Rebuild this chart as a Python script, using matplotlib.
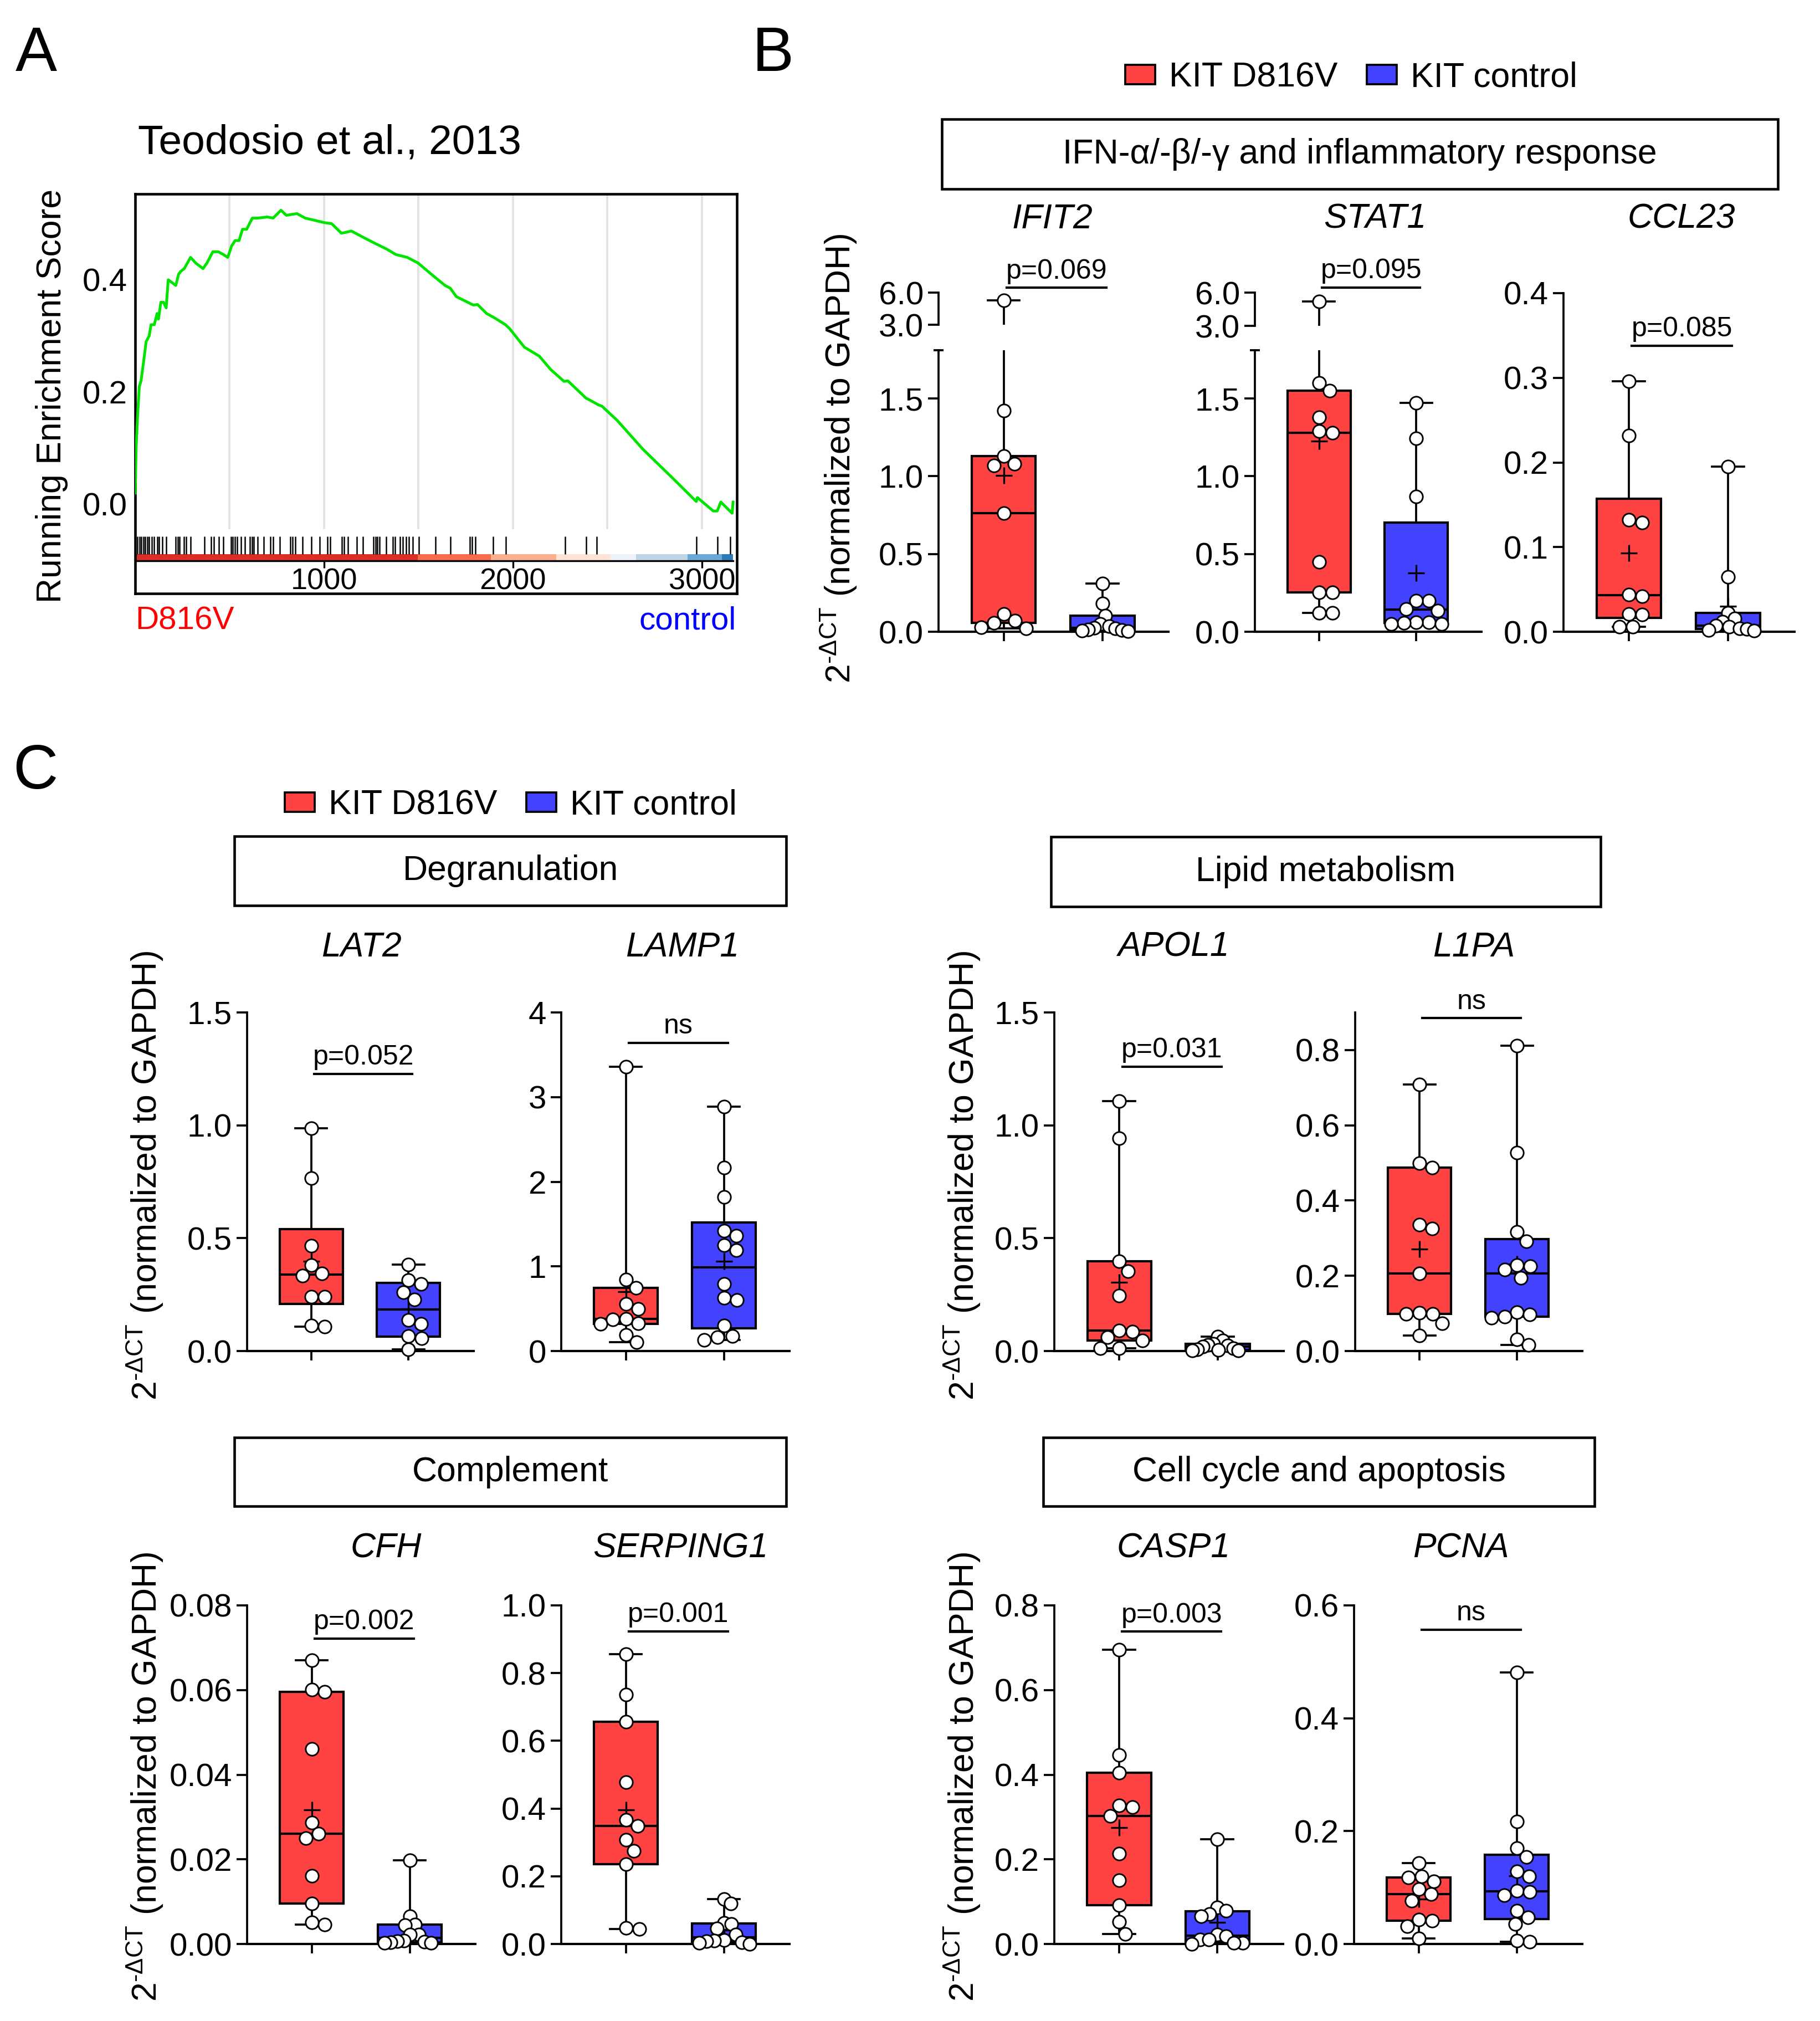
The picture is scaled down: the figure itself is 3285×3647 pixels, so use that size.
import numpy as np
import matplotlib
matplotlib.use('Agg')
import matplotlib.pyplot as plt
from matplotlib.patches import Patch, Rectangle

plt.rcParams['font.family'] = ['Liberation Sans', 'DejaVu Sans']
plt.rcParams['mathtext.fontset'] = 'custom'
plt.rcParams['mathtext.rm'] = 'Liberation Sans'
plt.rcParams['mathtext.it'] = 'Liberation Sans:italic'

W, H, DPI = 3285, 3647, 300
RED = '#ff4343'
BLUE = '#4343ff'

# ---------------- panel A data (GSEA running score) ----------------
es_x = [0, 5, 13, 22, 31, 43, 58, 74, 84, 101, 116, 123, 136, 150, 164, 175, 195,
        215, 230, 241, 260, 293, 320, 359, 380, 411, 440, 467, 490, 510, 529, 550,
        568, 590, 620, 650, 699, 730, 772, 800, 856, 900, 1000, 1040, 1092, 1120,
        1144, 1200, 1275, 1330, 1380, 1440, 1497, 1550, 1589, 1640, 1668, 1700,
        1772, 1790, 1812, 1860, 1903, 1960, 1982, 2060, 2139, 2200, 2270, 2290,
        2387, 2410, 2453, 2470, 2550, 2688, 2850, 2970, 2976, 3060, 3081, 3100,
        3160, 3165]
es_y = [0.02, 0.10, 0.16, 0.21, 0.22, 0.25, 0.29, 0.30, 0.32, 0.32, 0.34, 0.33,
        0.36, 0.36, 0.35, 0.40, 0.395, 0.39, 0.41, 0.415, 0.42, 0.44, 0.43, 0.42,
        0.43, 0.45, 0.45, 0.445, 0.44, 0.46, 0.47, 0.47, 0.49, 0.49, 0.51, 0.51,
        0.512, 0.51, 0.524, 0.515, 0.518, 0.51, 0.502, 0.50, 0.483, 0.485, 0.487,
        0.477, 0.464, 0.455, 0.445, 0.44, 0.43, 0.415, 0.404, 0.39, 0.385, 0.37,
        0.358, 0.355, 0.356, 0.34, 0.332, 0.32, 0.313, 0.28, 0.264, 0.24, 0.219,
        0.22, 0.189, 0.185, 0.177, 0.175, 0.15, 0.098, 0.045, 0.005, 0.012,
        -0.012, -0.012, 0.004, -0.016, 0.004]
hits = [11, 22, 32, 43, 53, 64, 74, 89, 101, 116, 126, 143, 164, 214, 227, 235,
        258, 269, 294, 367, 402, 415, 444, 467, 507, 517, 528, 540, 561, 580, 607,
        618, 628, 649, 681, 716, 729, 764, 821, 833, 848, 886, 932, 978, 1019,
        1032, 1095, 1105, 1126, 1172, 1204, 1260, 1273, 1283, 1293, 1329, 1365,
        1375, 1402, 1417, 1434, 1450, 1469, 1501, 1591, 1668, 1770, 1783, 1800,
        1894, 1963, 2277, 2386, 2444, 2971, 3082, 3149]
rank_edges = [0, 1496, 1883, 2228, 2515, 2650, 2925, 3107, 3165]
rank_colors = ['#dc2e26', '#f76a4a', '#fcae91', '#fde2d5', '#edf1fa', '#bcd5e6',
               '#6aa9d5', '#2b7bba']
rank_ticks = [1000, 2000, 3000]

# ---------------- panels B/C data (2^-dCT values) ----------------
d816v = {
    'IFIT2': [5.28, 1.42, 1.13, 1.07, 1.08, 0.763, 0.113, 0.056, 0.023, 0.028, 0.07],
    'STAT1': [5.2, 1.6, 1.55, 1.38, 1.29, 1.28, 0.45, 0.254, 0.254, 0.12, 0.12],
    'CCL23': [0.296, 0.232, 0.129, 0.132, 0.044, 0.042, 0.02, 0.021, 0.006, 0.006],
    'LAT2': [0.987, 0.766, 0.466, 0.38, 0.335, 0.344, 0.24, 0.24, 0.109, 0.113],
    'LAMP1': [3.36, 0.845, 0.746, 0.556, 0.496, 0.377, 0.33, 0.32, 0.37, 0.19, 0.103],
    'APOL1': [1.108, 0.943, 0.398, 0.353, 0.245, 0.09, 0.086, 0.046, 0.061, 0.012, 0.012],
    'L1PA': [0.709, 0.487, 0.499, 0.336, 0.326, 0.206, 0.099, 0.099, 0.101, 0.074, 0.041],
    'CFH': [0.0671, 0.0596, 0.0601, 0.0461, 0.0287, 0.026, 0.025, 0.0161, 0.0095,
            0.0046, 0.0051],
    'SERPING1': [0.856, 0.737, 0.656, 0.478, 0.366, 0.349, 0.307, 0.275, 0.235,
                 0.045, 0.047],
    'CASP1': [0.695, 0.446, 0.404, 0.327, 0.323, 0.303, 0.214, 0.15, 0.092, 0.052, 0.024],
    'PCNA': [0.143, 0.1175, 0.12, 0.111, 0.097, 0.088, 0.077, 0.043, 0.0415, 0.031, 0.0095],
}
control = {
    'IFIT2': [0.31, 0.18, 0.105, 0.05, 0.035, 0.025, 0.02, 0.015, 0.01, 0.008, 0.005],
    'STAT1': [1.47, 1.243, 0.87, 0.198, 0.198, 0.147, 0.135, 0.062, 0.062, 0.056, 0.05, 0.05],
    'CCL23': [0.195, 0.065, 0.022, 0.016, 0.012, 0.007, 0.006, 0.004, 0.003, 0.002, 0.001],
    'LAT2': [0.384, 0.298, 0.314, 0.26, 0.228, 0.138, 0.12, 0.067, 0.057, 0.007],
    'LAMP1': [2.89, 2.17, 1.82, 1.42, 1.36, 1.25, 1.19, 0.79, 0.627, 0.6, 0.30, 0.18,
              0.13, 0.163],
    'APOL1': [0.064, 0.046, 0.031, 0.028, 0.025, 0.02, 0.012, 0.008, 0.004, 0.003, 0.002],
    'L1PA': [0.812, 0.528, 0.316, 0.291, 0.226, 0.229, 0.195, 0.217, 0.103, 0.092, 0.088,
             0.097, 0.031, 0.016],
    'CFH': [0.0198, 0.0066, 0.0046, 0.0044, 0.0022, 0.0022, 0.0008, 0.0006, 0.0005,
            0.0004, 0.0003, 0.0002],
    'SERPING1': [0.132, 0.119, 0.062, 0.059, 0.046, 0.028, 0.012, 0.01, 0.008, 0.005,
                 0.003, 0.0],
    'CASP1': [0.248, 0.087, 0.079, 0.071, 0.066, 0.022, 0.018, 0.01, 0.01, 0.002, 0.002, 0.0],
    'PCNA': [0.481, 0.217, 0.17, 0.154, 0.129, 0.12, 0.0938, 0.086, 0.092, 0.059, 0.047,
             0.0356, 0.0036, 0.006],
}
p_text = {'IFIT2': 'p=0.069', 'STAT1': 'p=0.095', 'CCL23': 'p=0.085', 'LAT2': 'p=0.052',
          'LAMP1': 'ns', 'APOL1': 'p=0.031', 'L1PA': 'ns', 'CFH': 'p=0.002',
          'SERPING1': 'p=0.001', 'CASP1': 'p=0.003', 'PCNA': 'ns'}

# layout: pixel box of each axes (l, r, t, b), y max, tick step, decimals, bar height
layout = {
    'IFIT2': (1694, 2109, 632, 1140, 1.81, 0.5, 1, 6.45),
    'STAT1': (2265, 2674, 632, 1140, 1.81, 0.5, 1, 6.45),
    'CCL23': (2822, 3239, 529, 1140, 0.4, 0.1, 1, 0.338),
    'LAT2': (446, 855, 1827, 2438, 1.5, 0.5, 1, 1.228),
    'LAMP1': (1013, 1425, 1827, 2438, 4, 1, 0, 3.64),
    'APOL1': (1903, 2317, 1827, 2438, 1.5, 0.5, 1, 1.26),
    'L1PA': (2446, 2856, 1827, 2438, 0.9, 0.2, 1, 0.885),
    'CFH': (446, 858, 2897, 3508, 0.08, 0.02, 2, 0.0722),
    'SERPING1': (1013, 1425, 2897, 3508, 1.0, 0.2, 1, 0.923),
    'CASP1': (1903, 2316, 2897, 3508, 0.8, 0.2, 1, 0.738),
    'PCNA': (2444, 2856, 2897, 3508, 0.6, 0.2, 1, 0.557),
}
broken_top = {'IFIT2': (528, 586), 'STAT1': (528, 588)}
title_pos = {'IFIT2': (1899, 395), 'STAT1': (2482, 395), 'CCL23': (3035, 395),
             'LAT2': (652, 1709), 'LAMP1': (1232, 1709), 'APOL1': (2118, 1709),
             'L1PA': (2660, 1709), 'CFH': (697, 2794), 'SERPING1': (1228, 2794),
             'CASP1': (2118, 2794), 'PCNA': (2637, 2794)}

fig = plt.figure(figsize=(W / DPI, H / DPI), dpi=DPI)


def px_axes(l, r, t, b):
    return fig.add_axes([l / W, 1 - b / H, (r - l) / W, (b - t) / H])


def ftext(x, y, s, **kw):
    return fig.text(x / W, 1 - y / H, s, **kw)


# ---------------- panel A ----------------
axA = px_axes(244, 1330, 350, 1071)
axA.set_xlim(0, 3185)
axA.set_ylim(-0.159, 0.553)
axA.vlines(np.arange(500, 3001, 500), -0.0444, 0.553, color='#e2e2e2', lw=0.9, zorder=0)
axA.plot(es_x, es_y, color='#00e400', lw=1.2, zorder=3)
axA.vlines(hits, -0.0889, -0.0573, color='black', lw=0.6)
for x0, x1, c in zip(rank_edges[:-1], rank_edges[1:], rank_colors):
    axA.fill_between([x0, x1], -0.0998, -0.0889, color=c, lw=0)
axA.plot([0, 3165], [-0.1007, -0.1007], color='black', lw=0.8)
axA.vlines(rank_ticks, -0.1136, -0.1007, color='black', lw=0.8)
for t in rank_ticks:
    axA.text(t, -0.138, str(t), ha='center', va='center', fontsize=13)
axA.set_xticks([])
axA.set_yticks([0, 0.2, 0.4])
axA.set_yticklabels(['0.0', '0.2', '0.4'])
axA.tick_params(axis='y', length=0, pad=3.5, labelsize=14)
for s in axA.spines.values():
    s.set_linewidth(1.1)
ftext(94, 714, 'Running Enrichment Score', rotation=90, ha='center', va='center', fontsize=15)
ftext(249, 258, 'Teodosio et al., 2013', ha='left', va='center', fontsize=18)
ftext(244, 1121, 'D816V', ha='left', va='center', fontsize=14, color='#ff0000')
ftext(1329, 1121, 'control', ha='right', va='center', fontsize=14, color='#0000ff')

# ---------------- panel letters ----------------
ftext(28, 128, 'A', fontsize=27, va='baseline')
ftext(1358, 128, 'B', fontsize=27, va='baseline')
ftext(23, 1423, 'C', fontsize=27, va='baseline')

# ---------------- legends & group boxes ----------------
handles = [Patch(facecolor=RED, edgecolor='black', lw=0.9),
           Patch(facecolor=BLUE, edgecolor='black', lw=0.9)]
for x, y in [(2031, 140), (514, 1453)]:
    fig.legend(handles, ['KIT D816V', 'KIT control'], loc='center left',
               bbox_to_anchor=(x / W, 1 - y / H), ncol=2, frameon=False, fontsize=15,
               handlelength=0.86, handleheight=0.5, handletextpad=0.4,
               columnspacing=0.85, borderpad=0, borderaxespad=0)

groups = [('IFN-α/-β/-γ and inflammatory response', 1700, 3209, 215, 341),
          ('Degranulation', 423, 1419, 1509, 1634),
          ('Lipid metabolism', 1897, 2889, 1510, 1636),
          ('Complement', 423, 1419, 2594, 2718),
          ('Cell cycle and apoptosis', 1883, 2878, 2594, 2718)]
for name, l, r, t, b in groups:
    fig.add_artist(Rectangle((l / W, 1 - b / H), (r - l) / W, (b - t) / H,
                             transform=fig.transFigure, fill=False, lw=1.1, ec='black'))
    ftext((l + r) / 2, (t + b) / 2, name, ha='center', va='center', fontsize=15)

ylab = r'2$^{\mathregular{‐ΔCT}}$ (normalized to GAPDH)'
for x, y in [(1514, 828), (262, 2122), (1737, 2122), (262, 3207), (1737, 3207)]:
    ftext(x, y, ylab, rotation=90, ha='center', va='center', fontsize=15)


# ---------------- box plots ----------------
def swarm_offsets(ax, vals, d_px, limit):
    tr = ax.transData
    ys = tr.transform(np.column_stack([np.zeros(len(vals)), vals]))[:, 1]
    ppx = tr.transform((1, 0))[0] - tr.transform((0, 0))[0]
    placed = []
    xs = np.zeros(len(vals))
    for i in np.argsort(vals)[::-1]:
        cands = [0.0]
        for px, py in placed:
            dy = ys[i] - py
            if abs(dy) < d_px:
                dx = np.sqrt(d_px ** 2 - dy ** 2)
                cands += [px + dx, px - dx]
        cands.sort(key=abs)
        for c in cands:
            if all((c - px) ** 2 + (ys[i] - py) ** 2 >= d_px ** 2 - 1e-6 for px, py in placed):
                break
        placed.append((c, ys[i]))
        xs[i] = c
    xs = xs / ppx
    widest = np.abs(xs).max()
    if widest > limit:
        xs = xs * limit / widest
    return xs


def style_axes(ax):
    ax.spines['top'].set_visible(False)
    ax.spines['right'].set_visible(False)
    ax.spines['left'].set_linewidth(0.9)
    ax.spines['bottom'].set_linewidth(1.0)
    ax.set_xlim(-0.66, 1.67)
    ax.tick_params(axis='y', length=4.5, width=0.9, pad=2, labelsize=14)
    ax.tick_params(axis='x', length=4, width=0.9, labelbottom=False)
    ax.set_xticks([0, 1])


def draw_boxes(ax, groups_vals, lo, hi):
    stats = []
    for v in groups_vals:
        v = np.asarray(v, float)
        q1, med, q3 = np.percentile(v, [25, 50, 75], method='weibull')
        stats.append(dict(whislo=v.min(), q1=q1, med=med, q3=q3, whishi=v.max(),
                          mean=v.mean(), fliers=[]))
    bp = ax.bxp(stats, positions=[0, 1], widths=0.65, patch_artist=True, showmeans=True,
                showfliers=False, manage_ticks=False,
                boxprops=dict(lw=1.0, edgecolor='black'),
                medianprops=dict(color='black', lw=1.0),
                whiskerprops=dict(color='black', lw=0.9),
                capprops=dict(color='black', lw=0.9),
                meanprops=dict(marker='+', markeredgecolor='black', markersize=7,
                               markeredgewidth=0.8))
    for patch, c in zip(bp['boxes'], [RED, BLUE]):
        patch.set_facecolor(c)
    for k, v in enumerate(groups_vals):
        v = np.asarray(v, float)
        off = swarm_offsets(ax, v, 24, 0.26)
        keep = (v >= lo) & (v <= hi)
        ax.plot(k + off[keep], v[keep], 'o', ms=5.6, mfc='white', mec='black', mew=0.7,
                clip_on=False, zorder=5)


for gene, (l, r, t, b, ymax, step, dec, sig_y) in layout.items():
    ax = px_axes(l, r, t, b)
    ax.set_ylim(0, ymax)
    style_axes(ax)
    ticks = np.arange(0, ymax + 1e-9, step)
    ax.set_yticks(ticks)
    ax.set_yticklabels([f'{v:.{dec}f}' for v in ticks])
    vals = [d816v[gene], control[gene]]
    draw_boxes(ax, vals, 0, ymax)
    sig_ax = ax
    if gene in broken_top:
        ax.set_yticks([ymax], minor=True)
        ax.tick_params(axis='y', which='minor', length=4.5, width=0.9, direction='inout')
        ut, ub = broken_top[gene]
        axu = px_axes(l, r, ut, ub)
        axu.set_ylim(3, 6)
        axu.set_xlim(-0.66, 1.67)
        for s in ['top', 'right', 'bottom']:
            axu.spines[s].set_visible(False)
        axu.spines['left'].set_linewidth(0.9)
        axu.set_xticks([])
        axu.set_yticks([3, 6])
        axu.set_yticklabels(['3.0', '6.0'])
        axu.tick_params(axis='y', length=4.5, width=0.9, pad=2, labelsize=14)
        axu.patch.set_alpha(0)
        draw_boxes(axu, vals, 3, 6)
        sig_ax = axu
    sig_ax.plot([0.03, 1.04], [sig_y, sig_y], color='black', lw=1.0, clip_on=False)
    sig_ax.annotate(p_text[gene], xy=(0.535, sig_y), xytext=(0, 4), textcoords='offset points',
                    ha='center', va='baseline', fontsize=12, annotation_clip=False)
    tx, ty = title_pos[gene]
    ftext(tx, ty, gene, ha='center', va='center', fontsize=15, style='italic')

fig.savefig('out.png', dpi=DPI)
